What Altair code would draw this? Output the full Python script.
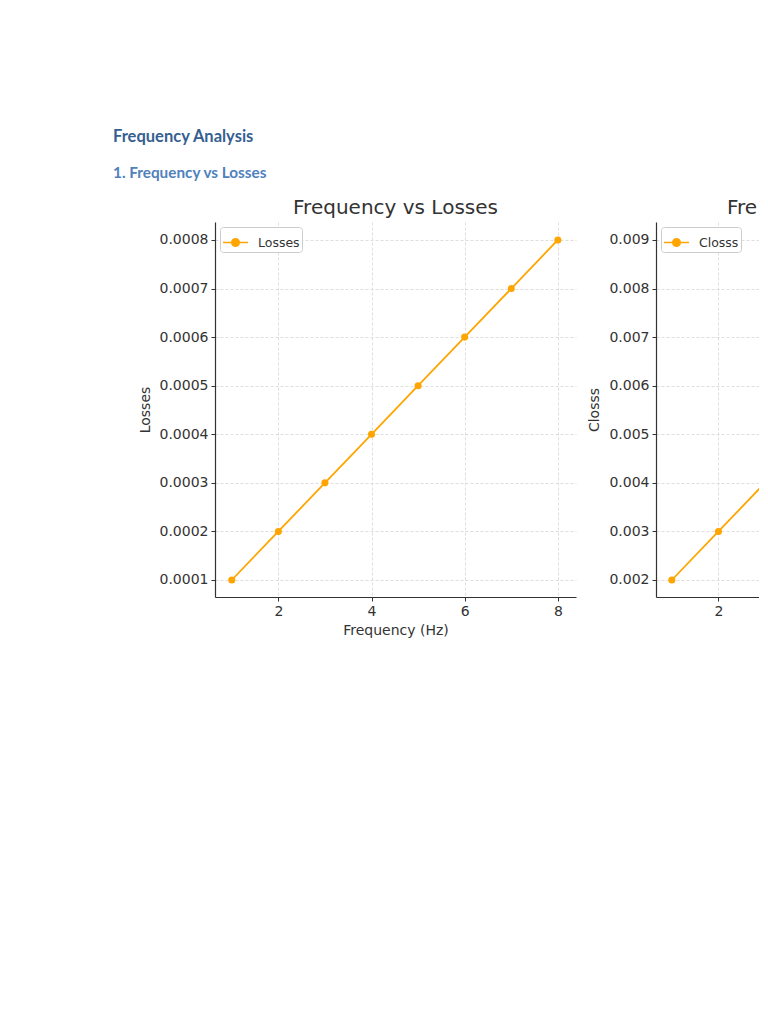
import altair as alt
import pandas as pd

freq = [1, 2, 3, 4, 5, 6, 7, 8]
losses = [0.0001, 0.0002, 0.0003, 0.0004, 0.0005, 0.0006, 0.0007, 0.0008]
closss = [0.002, 0.003, 0.004, 0.005, 0.006, 0.007, 0.008, 0.009]
x_ticks = [2, 4, 6, 8]
loss_ticks = [0.0001, 0.0002, 0.0003, 0.0004, 0.0005, 0.0006, 0.0007, 0.0008]
closs_ticks = [0.002, 0.003, 0.004, 0.005, 0.006, 0.007, 0.008, 0.009]
panel_titles = ["Frequency vs Losses", "Frequency vs Closss"]

ORANGE = "#FFA500"
DARK = "#333333"
FONT = "DejaVu Sans"
LEG_PATH = "M-1,0L1,0M0.3,0A0.3,0.3,0,1,1,-0.3,0A0.3,0.3,0,1,1,0.3,0Z"


def legend():
    return alt.Legend(
        title=None,
        orient="top-left",
        offset=5,
        padding=2,
        strokeColor="#cccccc",
        fillColor="white",
        cornerRadius=3,
        symbolType=LEG_PATH,
        symbolSize=625,
        symbolFillColor=ORANGE,
        symbolStrokeColor=ORANGE,
        symbolStrokeWidth=1.6,
        symbolOpacity=1,
        labelFont=FONT,
        labelFontSize=12.5,
        labelColor=DARK,
        labelOffset=9,
    )


def series_layers(values, name, xdomain, yticks, ydomain, fmt, xtitle):
    df = pd.DataFrame({"Frequency": freq, "value": values, "series": [name] * len(freq)})
    base = alt.Chart(df)
    color = alt.Color("series:N", scale=alt.Scale(domain=[name], range=[ORANGE]), legend=legend())
    x = alt.X(
        "Frequency:Q",
        title=xtitle,
        scale=alt.Scale(domain=xdomain, nice=False, zero=False),
        axis=alt.Axis(values=x_ticks, format="d"),
    )
    y = alt.Y(
        "value:Q",
        title=name,
        scale=alt.Scale(domain=ydomain, nice=False, zero=False),
        axis=alt.Axis(values=yticks, format=fmt),
    )
    line = base.mark_line(strokeWidth=1.8, clip=True).encode(x=x, y=y, color=color)
    pts = base.mark_circle(size=50, opacity=1, clip=True).encode(x=x, y=y, color=color)
    return line, pts


l1, c1 = series_layers(losses, "Losses", [0.64, 8.39], loss_ticks, [0.000065, 0.000837], ".4f", "Frequency (Hz)")
p1 = alt.layer(l1, c1).properties(
    width=361,
    height=375,
    title=alt.TitleParams(panel_titles[0], font=FONT, fontSize=20, fontWeight="normal", color=DARK, offset=4),
)

# second panel: only its left part is visible in the reference (cut at the page edge)
l2, c2 = series_layers(closss, "Closss", [0.66, 2.87], closs_ticks, [0.00165, 0.00937], ".3f", None)
t2 = (
    alt.Chart(pd.DataFrame({"t": [panel_titles[1]]}))
    .mark_text(align="left", baseline="alphabetic", font=FONT, fontSize=20, color=DARK, limit=32.5, ellipsis="\u200b")
    .encode(text="t:N", x=alt.value(71), y=alt.value(-8))
)
p2 = alt.layer(l2, c2, t2).properties(width=103, height=375)

chart = (
    alt.hconcat(p1, p2, spacing=80, bounds="flush")
    .resolve_scale(color="independent")
    .properties(
        padding={"left": 105, "top": 121, "right": 0, "bottom": 5},
        title=alt.TitleParams(
            "Frequency Analysis",
            subtitle="1. Frequency vs Losses",
            anchor="start",
            font="Lato",
            fontSize=16.5,
            fontWeight="bold",
            color="#365F91",
            subtitleFont="Lato",
            subtitleFontSize=15.3,
            subtitleFontWeight="bold",
            subtitleColor="#4F81BD",
            subtitlePadding=20,
            offset=17,
            dx=-25,
        ),
    )
    .configure_view(stroke=None)
    .configure_axis(
        domainColor=DARK,
        domainWidth=1.2,
        tickColor=DARK,
        tickSize=4,
        labelFont=FONT,
        labelFontSize=14,
        labelColor=DARK,
        labelPadding=3,
        titleFont=FONT,
        titleFontSize=14,
        titleFontWeight="normal",
        titleColor=DARK,
        gridColor="#d6d6d6",
        gridDash=[3, 2],
        gridWidth=0.8,
    )
    .configure_axisX(titlePadding=5)
    .configure_axisY(titlePadding=7)
)

chart.save("out.html", embed_options={"renderer": "svg", "actions": False})
